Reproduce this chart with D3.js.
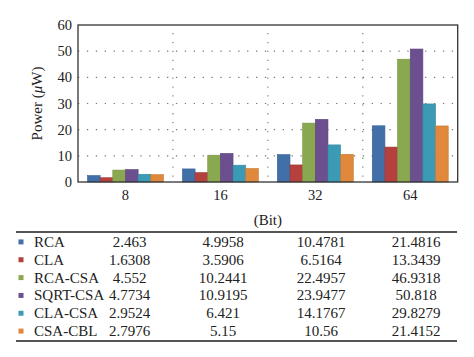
<!DOCTYPE html>
<html><head><meta charset="utf-8">
<script src="https://cdn.jsdelivr.net/npm/d3@7"></script>
<style>body{margin:0;background:#fff}svg{display:block}text{font-family:"Liberation Serif","DejaVu Serif",serif;fill:#222}</style>
</head><body><svg id="c" width="474" height="357"></svg>
<script>
const categories = ["8","16","32","64"];
const seriesNames = ["RCA","CLA","RCA-CSA","SQRT-CSA","CLA-CSA","CSA-CBL"];
const seriesLabels = [
 ["2.463","4.9958","10.4781","21.4816"],
 ["1.6308","3.5906","6.5164","13.3439"],
 ["4.552","10.2441","22.4957","46.9318"],
 ["4.7734","10.9195","23.9477","50.818"],
 ["2.9524","6.421","14.1767","29.8279"],
 ["2.7976","5.15","10.56","21.4152"]
];
const seriesValues = seriesLabels.map(r => r.map(Number));
const colors = ["#4170a9","#b5403e","#8aa84f","#6b4f8f","#3b9ab6","#e0883b"];
const yTicks = [0,10,20,30,40,50,60];

const svg = d3.select("#c");
const L=78, R=457.7, T=25, B=182;
const x0 = d3.scaleBand().domain(categories).range([L,R]).paddingInner(0).paddingOuter(0);
const x1 = d3.scaleBand().domain(seriesNames).range([0,x0.bandwidth()]).paddingInner(0).paddingOuter(0.75);
const y = d3.scaleLinear().domain([0,60]).range([B,T]);

// grid
const g = svg.append("g");
g.selectAll("line.h").data(yTicks.filter(v=>v>0&&v<60)).join("line")
 .attr("x1",L).attr("x2",R).attr("y1",d=>y(d)).attr("y2",d=>y(d))
 .attr("stroke","#777").attr("stroke-width",1.1).attr("stroke-dasharray","1.3,7.6");
g.selectAll("line.v").data(categories.slice(1)).join("line")
 .attr("x1",d=>x0(d)).attr("x2",d=>x0(d)).attr("y1",T+8).attr("y2",B-4)
 .attr("stroke","#777").attr("stroke-width",1.1).attr("stroke-dasharray","1.3,7.6");

// bars
seriesNames.forEach((s,i)=>{
  svg.append("g").selectAll("rect").data(categories).join("rect")
   .attr("x",c=>x0(c)+x1(s)).attr("width",x1.bandwidth())
   .attr("y",(c,j)=>y(seriesValues[i][j])).attr("height",(c,j)=>B-y(seriesValues[i][j]))
   .attr("fill",colors[i]).attr("stroke",d3.color(colors[i]).darker(0.4)).attr("stroke-width",0.6);
});

// frame
svg.append("rect").attr("x",L).attr("y",T).attr("width",R-L).attr("height",B-T)
 .attr("fill","none").attr("stroke","#333").attr("stroke-width",1.3);

// y axis
const ya = svg.append("g").attr("transform",`translate(${L},0)`)
 .call(d3.axisLeft(y).tickValues(yTicks).tickSize(0).tickPadding(6));
ya.select(".domain").remove();
ya.selectAll("text").style("font-size","14.5px").attr("fill","#222").style("font-family","Liberation Serif");
// x axis
const xa = svg.append("g").attr("transform",`translate(0,${B})`)
 .call(d3.axisBottom(x0).tickSize(0).tickPadding(8));
xa.select(".domain").remove();
xa.selectAll("text").style("font-size","14.5px").attr("fill","#222").style("font-family","Liberation Serif");

svg.append("text").attr("transform",`translate(42,${(T+B)/2}) rotate(-90)`)
 .attr("text-anchor","middle").style("font-size","15px")
 .html('Power (<tspan font-style="italic">μ</tspan>W)');
svg.append("text").attr("x",(L+R)/2).attr("y",225).attr("text-anchor","middle").style("font-size","15px").text("(Bit)");

// table
const tT=232, tB=341, tL=16, tR=457;
svg.append("line").attr("x1",tL).attr("x2",tR).attr("y1",tT).attr("y2",tT).attr("stroke","#555").attr("stroke-width",2);
svg.append("line").attr("x1",tL).attr("x2",tR).attr("y1",tB).attr("y2",tB).attr("stroke","#555").attr("stroke-width",2);
const colX = [129.5,223,321,416];
const rowY = d3.scaleBand().domain(seriesNames).range([233,340]);
seriesNames.forEach((s,i)=>{
  const cy = rowY(s)+rowY.bandwidth()/2;
  svg.append("rect").attr("x",18.5).attr("y",cy-2.5).attr("width",5).attr("height",5).attr("fill",colors[i]);
  svg.append("text").attr("x",34).attr("y",cy+5).style("font-size","15px").text(s);
  seriesLabels[i].forEach((v,j)=>{
    svg.append("text").attr("x",colX[j]).attr("y",cy+5).attr("text-anchor","middle").style("font-size","15px").text(v);
  });
});
</script></body></html>
